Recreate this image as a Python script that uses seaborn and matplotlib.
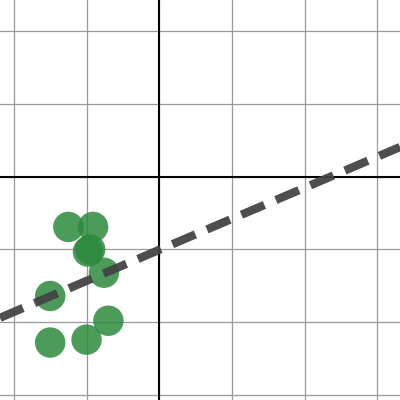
import matplotlib
matplotlib.use("Agg")
import matplotlib.pyplot as plt
import seaborn as sns
import numpy as np
import pandas as pd

x_vals = [-1.25, -0.91, -0.98, -0.95, -0.76, -1.50, -0.70, -1.50, -1.00]
y_vals = [-0.69, -0.69, -1.03, -1.00, -1.32, -1.64, -1.98, -2.28, -2.24]
slope = 0.427
intercept = -1.005

sns.set_style("white")
fig = plt.figure(figsize=(4, 4), dpi=100)
ax = fig.add_axes([0, 0, 1, 1])
xmin, xmax = -2.19, 3.31
ymin, ymax = -3.07, 2.43
ax.set_xlim(xmin, xmax)
ax.set_ylim(ymin, ymax)
for g in range(-2, 4):
    ax.axvline(g, color="#999999", lw=0.9, zorder=0)
for g in range(-3, 3):
    ax.axhline(g, color="#999999", lw=0.9, zorder=0)
ax.axvline(0, color="black", lw=1.5, zorder=1)
ax.axhline(0, color="black", lw=1.5, zorder=1)

df = pd.DataFrame({"x": x_vals, "y": y_vals})
sns.scatterplot(data=df, x="x", y="y", s=480, color="#2d8a3e", alpha=0.85,
                edgecolor="none", ax=ax, zorder=2)
lx = np.array([xmin, xmax])
ax.plot(lx, slope * lx + intercept, color="#444444", lw=6, ls=(0, (3, 1.5)),
        zorder=3, alpha=0.95)
ax.set_xticks([]); ax.set_yticks([])
ax.set_xlabel(""); ax.set_ylabel("")
for s in ax.spines.values():
    s.set_visible(False)
fig.savefig("out.png", dpi=100)
